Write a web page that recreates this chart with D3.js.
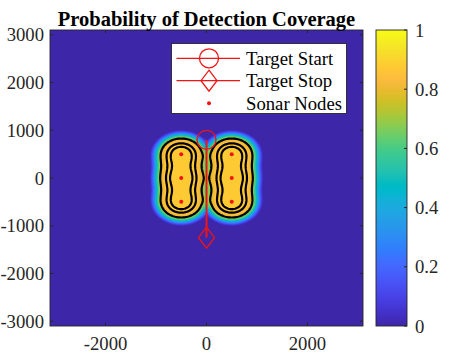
<!DOCTYPE html>
<html><head><meta charset="utf-8">
<script src="https://cdn.jsdelivr.net/npm/d3@7"></script>
<style>body{margin:0;background:#fff}svg{display:block}text{font-family:"Liberation Serif","Times New Roman",serif}</style>
</head><body><svg id="c" width="474" height="355"></svg>
<script>
// ---------- data ----------
const xTicks = [-2000, 0, 2000];
const yTicks = [-3000, -2000, -1000, 0, 1000, 2000, 3000];
const cbTicks = [0, 0.2, 0.4, 0.6, 0.8, 1];
const sonarX = [-500, -500, -500, 500, 500, 500];
const sonarY = [500, 0, -500, 500, 0, -500];
const targetStart = [0, 800];
const targetStop = [0, -1250];
const contourLevels = [0.74, 0.865, 0.874];
const legendLabels = ["Target Start", "Target Stop", "Sonar Nodes"];
const titleText = "Probability of Detection Coverage";
// detection model parameters
const sigX = 365, sigY = 300, sThresh = 0.058, sScale = 0.146, shape = 1.2, pMax = 0.875;
// parula colormap (MATLAB, 64 rows)
const parula = [[0.2422,0.1504,0.6603],[0.2504,0.1650,0.7076],[0.2578,0.1818,0.7511],[0.2647,0.1978,0.7952],[0.2706,0.2147,0.8364],[0.2751,0.2342,0.8710],[0.2783,0.2559,0.8991],[0.2803,0.2782,0.9221],[0.2813,0.3006,0.9414],[0.2810,0.3228,0.9579],[0.2795,0.3447,0.9717],[0.2760,0.3667,0.9829],[0.2699,0.3892,0.9906],[0.2602,0.4123,0.9952],[0.2440,0.4358,0.9988],[0.2206,0.4603,0.9973],[0.1963,0.4847,0.9892],[0.1834,0.5074,0.9798],[0.1786,0.5289,0.9682],[0.1764,0.5499,0.9520],[0.1687,0.5703,0.9359],[0.1540,0.5902,0.9218],[0.1460,0.6091,0.9079],[0.1380,0.6276,0.8973],[0.1248,0.6459,0.8883],[0.1113,0.6635,0.8763],[0.0952,0.6798,0.8598],[0.0689,0.6948,0.8394],[0.0297,0.7082,0.8163],[0.0036,0.7203,0.7917],[0.0067,0.7312,0.7660],[0.0433,0.7411,0.7394],[0.0964,0.7500,0.7120],[0.1408,0.7584,0.6842],[0.1717,0.7670,0.6554],[0.1938,0.7758,0.6251],[0.2161,0.7843,0.5923],[0.2470,0.7918,0.5567],[0.2906,0.7973,0.5188],[0.3406,0.8008,0.4789],[0.3909,0.8029,0.4354],[0.4456,0.8024,0.3909],[0.5044,0.7993,0.3480],[0.5616,0.7942,0.3045],[0.6174,0.7876,0.2612],[0.6720,0.7793,0.2227],[0.7242,0.7698,0.1910],[0.7738,0.7598,0.1646],[0.8203,0.7498,0.1535],[0.8634,0.7406,0.1596],[0.9035,0.7330,0.1774],[0.9393,0.7288,0.2100],[0.9728,0.7298,0.2394],[0.9956,0.7434,0.2371],[0.9970,0.7659,0.2199],[0.9952,0.7893,0.2028],[0.9892,0.8136,0.1885],[0.9786,0.8386,0.1766],[0.9676,0.8639,0.1643],[0.9610,0.8890,0.1537],[0.9597,0.9135,0.1423],[0.9628,0.9373,0.1265],[0.9691,0.9606,0.1064],[0.9769,0.9839,0.0805]];

function parulaColor(t) {
  t = Math.max(0, Math.min(1, t));
  const f = t * (parula.length - 1);
  const i = Math.min(parula.length - 2, Math.floor(f));
  const a = f - i, c0 = parula[i], c1 = parula[i + 1];
  const c = [0, 1, 2].map(k => Math.round(255 * (c0[k] + (c1[k] - c0[k]) * a)));
  return `rgb(${c[0]},${c[1]},${c[2]})`;
}

// ---------- layout ----------
const plot = {left: 50, right: 363, top: 30, bottom: 326};
const cb = {left: 376, right: 407};
const x = d3.scaleLinear().domain([-3100, 3100]).range([plot.left, plot.right]);
const y = d3.scaleLinear().domain([-3100, 3100]).range([plot.bottom, plot.top]);
const cy = d3.scaleLinear().domain([0, 1]).range([plot.bottom, plot.top]);
const axisColor = "#262626";
const red = "#f01414";
const svg = d3.select("#c");

// ---------- field ----------
const step = 20, x0 = -3100, y0 = -3100;
const nx = Math.round(6200 / step) + 1, ny = nx;
function det(s) {
  const u = Math.max(0, s - sThresh);
  return pMax * (1 - Math.exp(-Math.pow(u / sScale, shape)));
}
const values = new Float64Array(nx * ny);
for (let j = 0; j < ny; j++) {
  for (let i = 0; i < nx; i++) {
    const px = x0 + i * step, py = y0 + j * step;
    let sL = 0, sR = 0;
    for (let k = 0; k < sonarX.length; k++) {
      const dx = px - sonarX[k], dy = py - sonarY[k];
      const v = Math.exp(-(dx * dx / (sigX * sigX) + dy * dy / (sigY * sigY)));
      if (sonarX[k] < 0) sL += v; else sR += v;
    }
    values[j * nx + i] = 1 - (1 - det(sL)) * (1 - det(sR));
  }
}
const proj = d3.geoTransform({point(px, py) {
  this.stream.point(x(x0 + (px - 0.5) * step), y(y0 + (py - 0.5) * step));
}});
const path = d3.geoPath(proj);

svg.append("clipPath").attr("id", "pc").append("rect")
  .attr("x", plot.left).attr("y", plot.top)
  .attr("width", plot.right - plot.left).attr("height", plot.bottom - plot.top);
const g = svg.append("g").attr("clip-path", "url(#pc)");
g.append("rect").attr("x", plot.left).attr("y", plot.top)
  .attr("width", plot.right - plot.left).attr("height", plot.bottom - plot.top)
  .attr("fill", parulaColor(0));
const fillLevels = d3.range(1, 100).map(d => d / 100);
const fills = d3.contours().size([nx, ny]).thresholds(fillLevels)(values);
g.selectAll("path.f").data(fills).join("path").attr("class", "f")
  .attr("d", path).attr("fill", d => parulaColor(d.value + 0.005)).attr("stroke", "none");
const lines = d3.contours().size([nx, ny]).thresholds(contourLevels)(values);
g.selectAll("path.l").data(lines).join("path").attr("class", "l")
  .attr("d", path).attr("fill", "none").attr("stroke", "#000").attr("stroke-width", 2.2)
  .attr("stroke-linejoin", "round");

// target track
g.append("line").attr("x1", x(targetStart[0])).attr("y1", y(targetStart[1]))
  .attr("x2", x(targetStop[0])).attr("y2", y(targetStop[1]))
  .attr("stroke", red).attr("stroke-width", 2);
function diamond(cx, cyy, hw, hh) {
  return `M${cx},${cyy - hh}L${cx + hw},${cyy}L${cx},${cyy + hh}L${cx - hw},${cyy}Z`;
}
g.append("circle").attr("cx", x(targetStart[0])).attr("cy", y(targetStart[1])).attr("r", 9.5)
  .attr("fill", "none").attr("stroke", red).attr("stroke-width", 1.3);
g.append("path").attr("d", diamond(x(targetStop[0]), y(targetStop[1]), 8, 10.5))
  .attr("fill", "none").attr("stroke", red).attr("stroke-width", 1.3);
g.selectAll("circle.n").data(sonarX).join("circle").attr("class", "n")
  .attr("cx", (d, i) => x(sonarX[i])).attr("cy", (d, i) => y(sonarY[i])).attr("r", 2)
  .attr("fill", red);

// ---------- axes ----------
svg.append("rect").attr("x", plot.left).attr("y", plot.top)
  .attr("width", plot.right - plot.left).attr("height", plot.bottom - plot.top)
  .attr("fill", "none").attr("stroke", axisColor).attr("stroke-width", 0.9);
const tl = 3.2;
xTicks.forEach(t => {
  svg.append("line").attr("x1", x(t)).attr("x2", x(t)).attr("y1", plot.bottom).attr("y2", plot.bottom - tl).attr("stroke", axisColor);
  svg.append("line").attr("x1", x(t)).attr("x2", x(t)).attr("y1", plot.top).attr("y2", plot.top + tl).attr("stroke", axisColor);
  svg.append("text").attr("x", x(t)).attr("y", 350).attr("text-anchor", "middle")
    .attr("font-size", 18.7).attr("fill", axisColor).text(t);
});
yTicks.forEach(t => {
  svg.append("line").attr("x1", plot.left).attr("x2", plot.left + tl).attr("y1", y(t)).attr("y2", y(t)).attr("stroke", axisColor);
  svg.append("line").attr("x1", plot.right).attr("x2", plot.right - tl).attr("y1", y(t)).attr("y2", y(t)).attr("stroke", axisColor);
  svg.append("text").attr("x", 44).attr("y", y(t) + 6.5).attr("text-anchor", "end")
    .attr("font-size", 18.7).attr("fill", axisColor).text(t);
});
svg.append("text").attr("x", (plot.left + plot.right) / 2).attr("y", 26).attr("text-anchor", "middle")
  .attr("font-size", 20.5).attr("font-weight", "bold").attr("fill", "#000").text(titleText);

// ---------- colorbar ----------
const grad = svg.append("defs").append("linearGradient").attr("id", "cbg")
  .attr("x1", 0).attr("y1", 1).attr("x2", 0).attr("y2", 0);
parula.forEach((c, i) => grad.append("stop").attr("offset", i / (parula.length - 1))
  .attr("stop-color", parulaColor(i / (parula.length - 1))));
svg.append("rect").attr("x", cb.left).attr("y", plot.top).attr("width", cb.right - cb.left)
  .attr("height", plot.bottom - plot.top).attr("fill", "url(#cbg)")
  .attr("stroke", axisColor).attr("stroke-width", 0.9);
cbTicks.forEach(t => {
  svg.append("line").attr("x1", cb.right).attr("x2", cb.right - 3).attr("y1", cy(t)).attr("y2", cy(t)).attr("stroke", axisColor);
  svg.append("text").attr("x", 415).attr("y", cy(t) + 6.5).attr("font-size", 18.7)
    .attr("fill", axisColor).text(t);
});

// ---------- legend ----------
const lg = svg.append("g");
lg.append("rect").attr("x", 171.5).attr("y", 43.5).attr("width", 175).attr("height", 70)
  .attr("fill", "#fff").attr("stroke", axisColor).attr("stroke-width", 0.9);
const rowY = [58.3, 80.7, 103.3];
legendLabels.forEach((lab, i) => {
  const ry = rowY[i];
  if (i < 2) {
    lg.append("line").attr("x1", 176.5).attr("x2", 240).attr("y1", ry).attr("y2", ry)
      .attr("stroke", red).attr("stroke-width", 1.3);
  }
  if (i === 0) lg.append("circle").attr("cx", 209).attr("cy", ry).attr("r", 9.5)
    .attr("fill", "none").attr("stroke", red).attr("stroke-width", 1.3);
  if (i === 1) lg.append("path").attr("d", diamond(209, ry, 8, 10.5))
    .attr("fill", "none").attr("stroke", red).attr("stroke-width", 1.3);
  if (i === 2) lg.append("circle").attr("cx", 209).attr("cy", ry).attr("r", 2).attr("fill", red);
  lg.append("text").attr("x", 246).attr("y", ry + 6.3).attr("font-size", 18.7)
    .attr("fill", "#000").text(lab);
});
</script>
</body></html>
